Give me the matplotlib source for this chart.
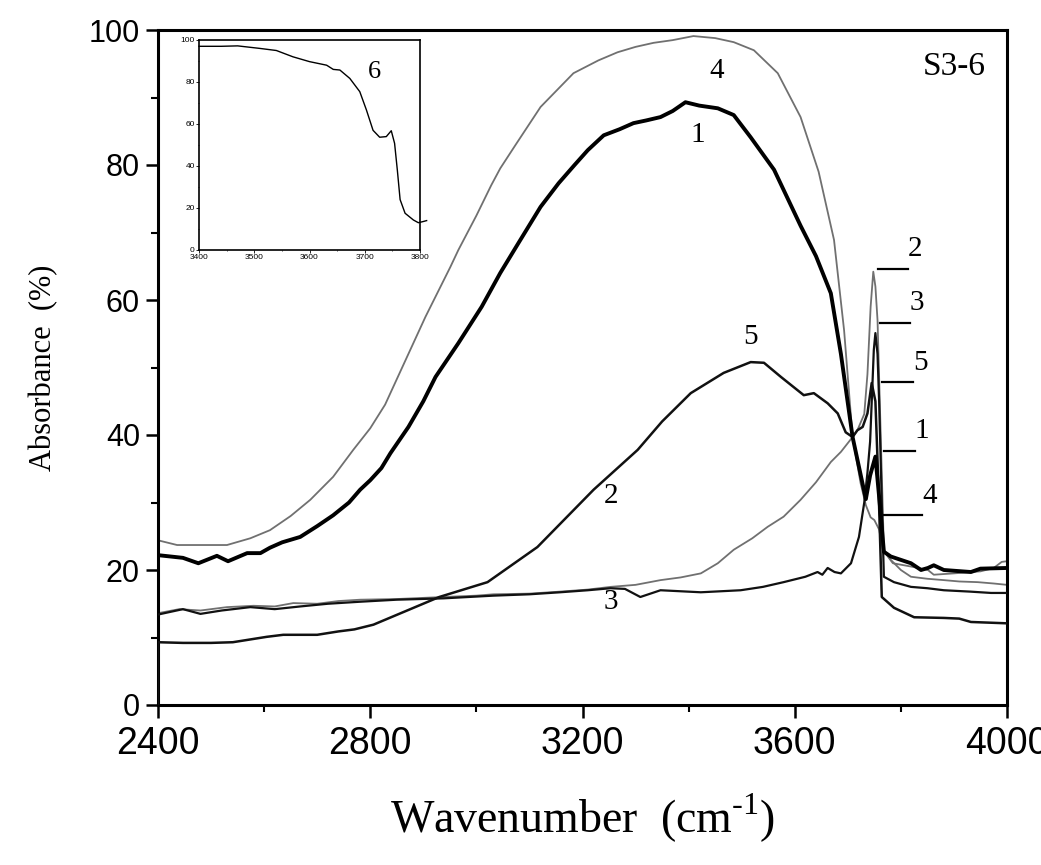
import matplotlib
matplotlib.use("Agg")
import matplotlib.pyplot as plt
from matplotlib.ticker import MultipleLocator

plt.rcParams['mathtext.fontset'] = 'custom'
plt.rcParams['mathtext.rm'] = 'Liberation Serif'

# ---------------- data ----------------
x1 = [2400, 2447, 2476, 2511, 2532, 2568, 2593, 2611, 2634, 2668, 2700, 2730, 2760, 2781, 2800,
      2821, 2838, 2872, 2900, 2923, 2966, 3010, 3045, 3079, 3121, 3155, 3185, 3210, 3240, 3270,
      3296, 3320, 3347, 3370, 3394, 3420, 3455, 3485, 3517, 3561, 3611, 3640, 3668, 3687, 3709,
      3734, 3742, 3752, 3760, 3768, 3781, 3819, 3838, 3851, 3862, 3881, 3932, 3950, 4000]
y1 = [22.2, 21.8, 21.0, 22.1, 21.3, 22.5, 22.5, 23.3, 24.1, 24.9, 26.5, 28.1, 30.0, 31.9, 33.3,
      35.1, 37.3, 41.2, 45.0, 48.6, 53.6, 59.0, 64.0, 68.4, 73.8, 77.3, 80.0, 82.2, 84.4, 85.3,
      86.2, 86.6, 87.1, 88.0, 89.3, 88.8, 88.4, 87.4, 84.1, 79.3, 71.0, 66.5, 61.0, 52.0, 39.7,
      30.5, 34.0, 36.8, 30.0, 22.7, 22.0, 21.0, 20.0, 20.3, 20.7, 20.0, 19.7, 20.2, 20.3]

x2 = [2400, 2440, 2480, 2530, 2580, 2620, 2655, 2700, 2740, 2781, 2850, 2938, 3000, 3032, 3100,
      3158, 3210, 3253, 3300, 3347, 3385, 3423, 3455, 3485, 3520, 3549, 3579, 3611, 3640, 3668,
      3687, 3700, 3709, 3718, 3731, 3737, 3743, 3748, 3752, 3756, 3762, 3768, 3781, 3800, 3819,
      3850, 3881, 3910, 3945, 3975, 4000]
y2 = [13.6, 14.2, 14.0, 14.5, 14.7, 14.6, 15.1, 15.0, 15.4, 15.6, 15.7, 16.0, 16.2, 16.4, 16.5,
      16.8, 17.1, 17.5, 17.8, 18.5, 18.9, 19.5, 21.0, 23.0, 24.7, 26.4, 27.9, 30.4, 33.0, 36.0,
      37.5, 38.8, 39.7, 40.7, 43.1, 49.0, 59.0, 64.2, 62.0, 57.0, 40.0, 23.0, 21.5, 20.0, 19.0,
      18.7, 18.5, 18.3, 18.2, 18.0, 17.8]

x3 = [2400, 2447, 2480, 2520, 2574, 2620, 2668, 2720, 2781, 2850, 2938, 3032, 3100, 3158, 3210,
      3253, 3280, 3309, 3347, 3423, 3498, 3540, 3579, 3620, 3643, 3652, 3662, 3675, 3687, 3706,
      3721, 3731, 3737, 3742, 3746, 3749, 3752, 3756, 3759, 3764, 3768, 3787, 3819, 3850, 3881,
      3930, 3970, 4000]
y3 = [13.4, 14.2, 13.5, 14.0, 14.5, 14.2, 14.6, 15.0, 15.3, 15.6, 15.8, 16.2, 16.4, 16.7, 17.0,
      17.3, 17.2, 16.0, 17.0, 16.7, 17.0, 17.5, 18.2, 19.0, 19.7, 19.3, 20.3, 19.7, 19.5, 21.0,
      24.9, 30.0, 34.4, 39.0, 46.7, 52.6, 55.1, 52.0, 45.0, 30.0, 19.0, 18.2, 17.5, 17.3, 17.0,
      16.8, 16.6, 16.6]

x4 = [2400, 2436, 2479, 2530, 2574, 2611, 2650, 2687, 2730, 2768, 2800, 2828, 2866, 2904, 2951,
      2966, 3000, 3028, 3045, 3074, 3121, 3183, 3230, 3266, 3300, 3334, 3370, 3409, 3450, 3485,
      3523, 3568, 3611, 3645, 3674, 3693, 3709, 3724, 3734, 3743, 3750, 3759, 3766, 3785, 3820,
      3851, 3862, 3900, 3950, 3975, 3990, 4000]
y4 = [24.4, 23.7, 23.7, 23.7, 24.7, 25.9, 28.0, 30.4, 33.8, 37.8, 41.0, 44.5, 51.0, 57.5, 64.9,
      67.4, 72.5, 77.0, 79.5, 83.0, 88.6, 93.6, 95.5, 96.7, 97.5, 98.1, 98.5, 99.1, 98.8, 98.2,
      97.0, 93.6, 87.1, 79.0, 68.9, 55.5, 39.7, 32.9, 29.6, 27.8, 27.4, 26.0, 23.0, 21.0, 20.5,
      20.0, 19.3, 19.5, 19.8, 20.3, 21.2, 21.3]

x5 = [2400, 2400, 2447, 2500, 2541, 2605, 2636, 2668, 2700, 2740, 2770, 2806, 2930, 3021, 3115,
      3221, 3304, 3350, 3404, 3466, 3517, 3542, 3574, 3617, 3636, 3662, 3681, 3696, 3709, 3718,
      3728, 3737, 3745, 3752, 3758, 3764, 3787, 3825, 3881, 3910, 3932, 4000]
y5 = [0.0, 9.3, 9.2, 9.2, 9.3, 10.1, 10.4, 10.4, 10.4, 10.9, 11.2, 11.9, 16.0, 18.2, 23.4,
      31.9, 37.8, 42.0, 46.2, 49.2, 50.8, 50.7, 48.6, 45.9, 46.2, 44.7, 43.2, 40.4, 39.7, 40.7,
      41.2, 43.2, 47.7, 45.0, 32.0, 16.0, 14.4, 13.0, 12.9, 12.8, 12.3, 12.1]

x6 = [3400, 3440, 3470, 3510, 3540, 3570, 3600, 3631, 3643, 3655, 3673, 3691, 3703, 3715, 3727,
      3739, 3748, 3754, 3759, 3764, 3773, 3788, 3797, 3805, 3812]
y6 = [97.0, 97.0, 97.2, 96.0, 95.0, 92.0, 89.7, 88.0, 86.0, 85.7, 81.7, 75.4, 66.7, 57.0, 53.7,
      54.0, 56.8, 50.8, 38.0, 24.0, 17.5, 14.3, 13.0, 13.5, 14.0]

x_ticks = [2400, 2800, 3200, 3600, 4000]
y_ticks = [0, 20, 40, 60, 80, 100]
inset_x_ticks = [3400, 3500, 3600, 3700, 3800]
inset_y_ticks = [0, 20, 40, 60, 80, 100]

# curve labels: (text, x, y)
curve_labels = [("4", 3453, 94), ("1", 3417, 84.5), ("5", 3517, 54.5), ("2", 3253, 31), ("3", 3253, 15.3)]
# right-side labels: (text, y of leader line, x start, x end)
side_labels = [("2", 64.6, 3757, 3813), ("3", 56.6, 3760, 3817), ("5", 47.8, 3765, 3823),
               ("1", 37.6, 3769, 3826), ("4", 28.1, 3769, 3840)]

serif = 'Liberation Serif'
sans = 'Liberation Sans'

fig = plt.figure(figsize=(10.41, 8.65), dpi=100)
ax = fig.add_axes([158/1041, 1-705/865, 849/1041, 675/865])

ax.plot(x4, y4, color='#707070', lw=1.3, zorder=2)
ax.plot(x2, y2, color='#707070', lw=1.3, zorder=2)
ax.plot(x3, y3, color='#111111', lw=1.6, zorder=3)
ax.plot(x5, y5, color='#111111', lw=1.8, zorder=3)
ax.plot(x1, y1, color='black', lw=2.8, zorder=4)

ax.set_xlim(2400, 4000)
ax.set_ylim(0, 100)
ax.set_xticks(x_ticks)
ax.set_yticks(y_ticks)
ax.xaxis.set_minor_locator(MultipleLocator(200))
ax.yaxis.set_minor_locator(MultipleLocator(10))
ax.tick_params(axis='both', which='major', direction='out', length=9, width=1.8, top=False, right=False)
ax.tick_params(axis='both', which='minor', direction='out', length=5, width=1.5, top=False, right=False)
for s in ax.spines.values():
    s.set_linewidth(2.2)

for lab in ax.get_yticklabels():
    lab.set_fontfamily(sans)
    lab.set_fontsize(22)
for lab in ax.get_xticklabels():
    lab.set_fontfamily(sans)
    lab.set_fontsize(27)
ax.tick_params(axis='y', pad=4)
ax.tick_params(axis='x', pad=6)

ax.set_ylabel('Absorbance  (%)', fontfamily=serif, fontsize=22, labelpad=22)

xl_fancy = r'Wavenumber  (cm$^{\text{-1}}$)'
xl_plain = r'Wavenumber  (cm$^{\mathregular{-1}}$)'
ax.set_xlabel(xl_fancy, fontfamily=serif, fontsize=33, labelpad=22)
try:
    fig.canvas.draw()
except Exception:
    ax.set_xlabel(xl_plain, fontfamily=serif, fontsize=33, labelpad=22)

for t, x, y in curve_labels:
    ax.text(x, y, t, fontfamily=serif, fontsize=21, ha='center', va='center')
for t, y, xs, xe in side_labels:
    ax.plot([xs, xe], [y, y], color='black', lw=1.6)
    ax.text(xe, y + 1.0, t, fontfamily=serif, fontsize=21, ha='left', va='bottom')

ax.text(0.975, 0.945, 'S3-6', transform=ax.transAxes, fontfamily=serif, fontsize=24,
        ha='right', va='center')

# inset
ins = fig.add_axes([199/1041, 1-250/865, 221/1041, 210/865])
ins.plot(x6, y6, color='black', lw=1.0, clip_on=False)
ins.set_xlim(3400, 3800)
ins.set_ylim(0, 100)
ins.set_xticks(inset_x_ticks)
ins.set_yticks(inset_y_ticks)
ins.xaxis.set_minor_locator(MultipleLocator(50))
ins.yaxis.set_minor_locator(MultipleLocator(10))
ins.tick_params(which='major', direction='out', length=2, width=0.6, labelsize=6, pad=1)
ins.tick_params(which='minor', direction='out', length=1, width=0.5)
for lab in ins.get_xticklabels() + ins.get_yticklabels():
    lab.set_fontfamily(sans)
for s in ins.spines.values():
    s.set_linewidth(1.2)
ins.text(3718, 85, '6', fontfamily=serif, fontsize=19, ha='center', va='center')

fig.savefig('out.png', dpi=100)
